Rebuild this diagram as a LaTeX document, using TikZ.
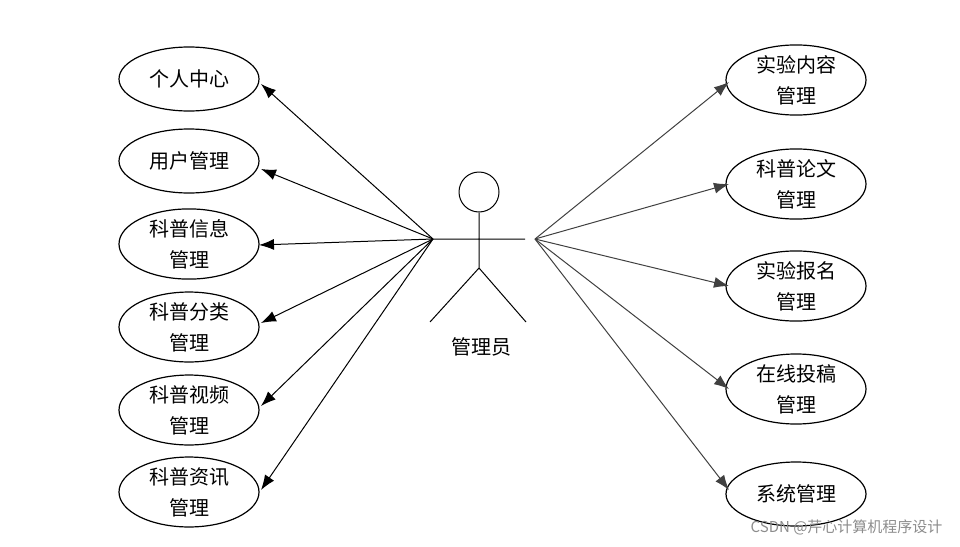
\documentclass[tikz,border=0pt]{standalone}
\usepackage{fontspec}
\setmainfont{Liberation Serif}
\newfontfamily\cjk{Noto Sans CJK SC}
\usetikzlibrary{shapes.geometric,arrows.meta}
\begin{document}
\begin{tikzpicture}[x=1pt,y=-1pt,
  uc/.style={draw,ellipse,line width=1.2pt,minimum width=140pt,minimum height=64pt,inner sep=0pt,align=center,font=\cjk\fontsize{20}{31}\selectfont},
  la/.style={line width=1pt,-{Latex[length=15pt,width=11pt]}},
  ra/.style={line width=1pt,draw=black!75,-{Latex[length=15pt,width=11pt]}}]
\useasboundingbox (0,0) rectangle (960,546);
\node[uc] (l1) at (189,79) {个人中心};
\node[uc] (l2) at (189,161) {用户管理};
\node[uc] (l3) at (189,244) {科普信息\\管理};
\node[uc] (l4) at (189,327) {科普分类\\管理};
\node[uc] (l5) at (189,410) {科普视频\\管理};
\node[uc] (l6) at (189,492) {科普资讯\\管理};
\node[uc] (r1) at (796,80) {实验内容\\管理};
\node[uc] (r2) at (796,184) {科普论文\\管理};
\node[uc] (r3) at (796,286) {实验报名\\管理};
\node[uc] (r4) at (796,389) {在线投稿\\管理};
\node[uc] (r5) at (796,494) {系统管理};
% actor
\node[draw,circle,line width=1pt,minimum size=40pt,inner sep=0pt] (head) at (479,192) {};
\coordinate (al) at (433,239);
\coordinate (ar) at (525,239);
\coordinate (src) at (535,239);
\coordinate (hip) at (479,268);
\coordinate (fl) at (430,322);
\coordinate (fr) at (526,322);
\draw[line width=1pt] (head.south) -- (hip) (al) -- (ar) (fl) -- (hip) -- (fr);
\node[font=\cjk\fontsize{20}{24}\selectfont] (actor) at (481,347) {管理员};
\coordinate (t1) at (261,84); \coordinate (t2) at (261,169);
\coordinate (t3) at (259,245); \coordinate (t4) at (261,323);
\coordinate (t5) at (261,406); \coordinate (t6) at (261,490);
\coordinate (u1) at (729,82); \coordinate (u2) at (729,184);
\coordinate (u3) at (729,286); \coordinate (u4) at (729,389);
\coordinate (u5) at (729,490);
\foreach \n in {1,...,6} \draw[la] (al) -- (t\n);
\foreach \n in {1,...,5} \draw[ra] (src) -- (u\n);
\node[anchor=east,text=black!45,font=\cjk\fontsize{15}{18}\selectfont] (wm) at (946,527) {CSDN @芹心计算机程序设计};
\end{tikzpicture}
\end{document}
